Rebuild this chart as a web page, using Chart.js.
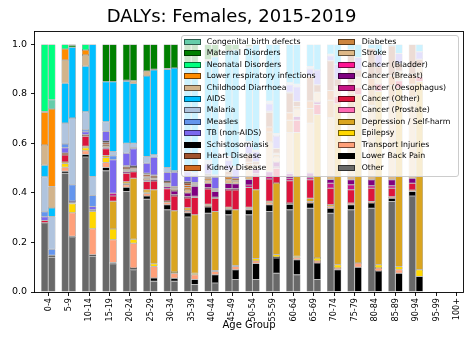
<!DOCTYPE html>
<html><head><meta charset="utf-8">
<script src="https://cdn.jsdelivr.net/npm/chart.js@4.4.1/dist/chart.umd.min.js"></script>
<style>
html,body{margin:0;padding:0;background:#fff;}
#wrap{position:relative;width:474px;height:355px;}
#legend{position:absolute;left:181px;top:35px;width:278px;height:142px;background:rgba(255,255,255,0.8);border:1px solid #cccccc;border-radius:3px;box-sizing:border-box;font-family:'DejaVu Sans';font-size:7.8px;color:#000;}
.item{position:absolute;white-space:nowrap;height:10px;line-height:10px;}
.sw{position:absolute;width:16.5px;height:6px;border:0.6px solid rgba(0,0,0,0.55);box-sizing:border-box;}
</style></head>
<body><div id="wrap"><canvas id="c" width="474" height="355"></canvas><div id="legend"></div></div>
<script>
const titleText = 'DALYs: Females, 2015-2019';
const xTitle = 'Age Group';
const ageGroups = ['0-4','5-9','10-14','15-19','20-24','25-29','30-34','35-39','40-44','45-49','50-54','55-59','60-64','65-69','70-74','75-79','80-84','85-89','90-94','95-99','100+'];
const yTicks = [0, 0.2, 0.4, 0.6, 0.8, 1.0];

// series in stacking order, bottom -> top
const seriesNames = ['Other','Lower Back Pain','Transport Injuries','Epilepsy','Depression / Self-harm','Cancer (Prostate)','Cancer (Other)','Cancer (Oesophagus)','Cancer (Breast)','Cancer (Bladder)','Stroke','Diabetes','Kidney Disease','Heart Disease','Schistosomiasis','TB (non-AIDS)','Measles','Malaria','AIDS','Childhood Diarrhoea','Lower respiratory infections','Congenital birth defects','Maternal Disorders','Neonatal Disorders'];
const seriesColors = ['#696969','#000000','#FFA07A','#FFD700','#DAA520','#FF69B4','#DC143C','#C71585','#800080','#FF1493','#DEB887','#CD853F','#D2691E','#A0522D','#000000','#7B68EE','#6495ED','#B0C4DE','#00BFFF','#D2B48C','#FF8C00','#66CDAA','#008000','#00FF7F'];
const legendOrder = ['Congenital birth defects','Maternal Disorders','Neonatal Disorders','Lower respiratory infections','Childhood Diarrhoea','AIDS','Malaria','Measles','TB (non-AIDS)','Schistosomiasis','Heart Disease','Kidney Disease','Diabetes','Stroke','Cancer (Bladder)','Cancer (Breast)','Cancer (Oesophagus)','Cancer (Other)','Cancer (Prostate)','Depression / Self-harm','Epilepsy','Transport Injuries','Lower Back Pain','Other'];

// left bar (A) and right bar (B) of each age group, values in seriesNames order
const A_00_04 = [0.28,0,0,0,0,0,0.009,0,0,0,0,0,0,0,0,0.015,0.02,0.141,0.047,0.082,0.132,0.003,0,0.271];
const B_00_04 = [0.14,0.005,0,0,0,0,0,0,0,0,0,0,0,0,0,0.003,0.025,0.132,0.034,0.087,0.313,0.037,0,0.224];
const A_05_09 = [0.48,0.008,0.016,0.015,0.006,0,0.028,0,0,0,0,0,0,0.008,0,0.022,0.015,0.085,0.16,0.094,0.044,0,0,0.019];
const B_05_09 = [0.222,0.003,0.095,0.036,0,0,0.002,0,0,0,0,0,0,0,0.004,0.006,0.065,0.27,0.285,0,0,0,0.008,0.004];
const A_10_14 = [0.545,0.01,0.015,0.013,0.006,0,0.04,0,0,0,0,0,0,0.006,0,0.012,0.008,0.073,0.184,0.045,0.02,0,0,0.023];
const B_10_14 = [0.144,0.006,0.105,0.07,0.003,0,0,0,0,0,0,0,0,0,0.004,0.013,0.045,0.076,0.534,0,0,0,0,0];
const A_15_19 = [0.49,0.013,0.02,0.02,0.008,0,0.028,0,0.005,0,0.006,0,0.005,0.008,0.007,0.038,0,0.04,0.161,0,0,0,0.151,0];
const B_15_19 = [0.114,0.005,0.092,0.043,0.112,0,0.022,0.011,0,0,0,0,0,0,0,0.135,0.016,0.017,0.282,0,0,0,0.151,0];
const A_20_24 = [0.406,0.017,0.01,0.004,0.008,0,0.035,0,0.006,0,0.005,0.005,0.005,0.006,0.003,0.05,0,0.041,0.25,0.004,0,0,0.145,0];
const B_20_24 = [0.09,0.007,0.1,0.016,0.246,0,0.027,0,0.004,0,0.005,0.005,0,0.005,0.004,0.07,0.005,0.017,0.241,0.011,0,0,0.147,0];
const A_25_29 = [0.375,0.013,0.01,0.005,0.01,0,0.033,0,0.005,0,0.006,0.005,0.005,0.008,0.005,0.04,0,0.027,0.325,0.02,0,0,0.108,0];
const B_25_29 = [0.043,0.014,0.046,0.011,0.299,0,0.035,0,0.005,0,0.006,0.005,0,0.006,0.003,0.071,0,0.01,0.343,0.003,0,0,0.1,0];
const A_30_34 = [0.332,0.02,0.01,0,0.005,0,0.05,0,0.008,0,0.005,0.004,0.004,0.006,0.004,0.035,0,0.02,0.396,0.004,0,0,0.097,0];
const B_30_34 = [0.043,0.013,0.02,0.005,0.247,0,0.06,0.005,0.015,0,0.005,0.005,0,0.005,0.003,0.058,0,0.006,0.415,0,0,0,0.095,0];
const A_35_39 = [0.303,0.017,0.007,0.003,0.01,0,0.04,0.005,0.015,0,0.012,0.01,0.008,0.01,0.005,0.04,0,0.02,0.41,0.005,0,0,0.08,0];
const B_35_39 = [0.03,0.02,0.02,0.006,0.236,0,0.07,0.005,0.04,0.003,0.005,0.003,0,0.004,0,0.03,0,0.01,0.438,0,0,0,0.08,0];
const A_40_44 = [0.318,0.025,0.005,0,0.006,0,0.062,0.005,0.018,0,0.01,0.008,0.006,0.01,0.004,0.04,0,0.015,0.4,0.006,0,0,0.062,0];
const B_40_44 = [0.036,0.034,0.013,0.004,0.238,0,0.054,0.004,0.023,0,0.004,0.004,0,0.004,0,0.045,0,0.01,0.477,0,0,0,0.05,0];
const A_45_49 = [0.312,0.02,0.004,0,0.006,0,0.07,0.006,0.02,0,0.015,0.012,0.008,0.015,0.004,0.04,0,0.015,0.428,0,0,0,0.025,0];
const B_45_49 = [0.05,0.04,0.013,0.004,0.225,0,0.08,0.005,0.02,0,0.008,0.006,0,0.008,0,0.04,0,0.008,0.47,0,0,0,0.023,0];
const A_50_54 = [0.312,0.02,0.005,0,0.005,0,0.08,0.01,0.022,0,0.04,0.02,0.01,0.03,0.004,0.035,0,0.015,0.38,0.004,0,0,0.008,0];
const B_50_54 = [0.05,0.065,0.01,0.01,0.278,0,0.06,0.005,0.02,0,0.01,0.008,0,0.01,0,0.04,0,0.006,0.428,0,0,0,0,0];
const A_55_59 = [0.325,0.027,0.008,0,0.006,0,0.09,0.01,0.02,0,0.12,0.04,0.02,0.06,0.004,0.03,0,0.01,0.23,0,0,0,0,0];
const B_55_59 = [0.076,0.061,0.004,0.01,0.289,0,0.06,0.005,0.02,0,0.02,0.01,0.005,0.02,0,0.05,0,0.01,0.36,0,0,0,0,0];
const A_60_64 = [0.332,0.022,0.005,0,0,0,0.09,0.01,0.02,0.005,0.16,0.05,0.03,0.08,0.003,0.03,0,0.008,0.155,0,0,0,0,0];
const B_60_64 = [0.07,0.06,0.008,0.006,0.5,0,0.05,0,0.015,0,0.03,0.01,0,0.02,0,0.06,0,0.01,0.161,0,0,0,0,0];
const A_65_69 = [0.338,0.021,0.006,0,0.014,0,0.074,0.008,0.02,0,0.2,0.06,0.03,0.1,0,0.03,0,0.01,0.089,0,0,0,0,0];
const B_65_69 = [0.05,0.067,0.008,0.012,0.58,0,0.04,0,0.01,0,0.04,0,0,0.03,0,0.06,0,0,0.103,0,0,0,0,0];
const A_70_74 = [0.318,0.02,0.007,0,0.007,0,0.067,0.02,0.015,0,0.25,0.07,0.04,0.12,0,0.02,0,0.006,0.04,0,0,0,0,0];
const B_70_74 = [0,0.09,0.007,0.013,0.65,0,0.03,0,0,0,0.04,0,0,0.03,0,0.06,0,0,0.08,0,0,0,0,0];
const A_75_79 = [0.332,0.02,0.007,0,0,0,0.054,0.02,0.02,0,0.28,0.07,0.04,0.12,0,0.015,0,0,0.022,0,0,0,0,0];
const B_75_79 = [0,0.1,0.017,0,0.68,0,0.03,0,0,0,0.04,0,0,0.03,0,0.05,0,0,0.053,0,0,0,0,0];
const A_80_84 = [0.338,0.021,0.006,0,0,0,0.054,0.01,0.024,0,0.3,0.07,0.04,0.12,0,0,0,0,0.017,0,0,0,0,0];
const B_80_84 = [0,0.085,0.012,0.013,0.7,0,0.03,0,0,0,0.04,0,0,0.03,0,0.05,0,0,0.04,0,0,0,0,0];
const A_85_89 = [0.365,0.014,0.006,0,0,0,0.034,0.01,0.024,0,0.32,0.06,0.04,0.12,0,0,0,0,0.007,0,0,0,0,0];
const B_85_89 = [0,0.076,0.014,0.013,0.72,0,0.03,0,0,0,0.04,0,0,0.03,0,0.04,0,0,0.037,0,0,0,0,0];
const A_90_94 = [0.388,0.018,0.006,0,0,0,0.027,0,0.02,0,0.33,0.05,0.04,0.121,0,0,0,0,0,0,0,0,0,0];
const B_90_94 = [0,0.063,0,0.027,0.76,0,0.02,0,0,0,0.04,0,0,0.03,0,0.03,0,0,0.03,0,0,0,0,0];

const barsA = [A_00_04,A_05_09,A_10_14,A_15_19,A_20_24,A_25_29,A_30_34,A_35_39,A_40_44,A_45_49,A_50_54,A_55_59,A_60_64,A_65_69,A_70_74,A_75_79,A_80_84,A_85_89,A_90_94];
const barsB = [B_00_04,B_05_09,B_10_14,B_15_19,B_20_24,B_25_29,B_30_34,B_35_39,B_40_44,B_45_49,B_50_54,B_55_59,B_60_64,B_65_69,B_70_74,B_75_79,B_80_84,B_85_89,B_90_94];

const datasets = [];
[['A', barsA], ['B', barsB]].forEach(([stack, bars]) => {
  seriesNames.forEach((name, s) => {
    datasets.push({
      label: name, stack: stack,
      data: bars.map((bar, i) => ({x: i, y: bar[s]})),
      backgroundColor: seriesColors[s]
    });
  });
});

const framePlugin = {
  id: 'frame',
  afterDraw(chart) {
    const {ctx, chartArea: a} = chart;
    ctx.save();
    ctx.strokeStyle = '#000';
    ctx.lineWidth = 0.9;
    ctx.strokeRect(Math.round(a.left) - 0.5, Math.round(a.top) - 0.5, Math.round(a.right - a.left) + 1, Math.round(a.bottom - a.top) + 1);
    ctx.restore();
  }
};

const yTickFont = {family: 'DejaVu Sans', size: 9.5};
const xTickFont = {family: "'DejaVu Sans Condensed', 'DejaVu Sans'", size: 9};
new Chart(document.getElementById('c'), {
  type: 'bar',
  data: {datasets},
  options: {
    responsive: false, animation: false, devicePixelRatio: 1,
    layout: {padding: {left: 0, right: 11, top: 0, bottom: 0}},
    datasets: {bar: {categoryPercentage: 0.7, barPercentage: 1.0, borderWidth: 0.5, borderColor: 'rgba(0,0,0,0.6)', borderSkipped: false}},
    plugins: {
      legend: {display: false}, tooltip: {enabled: false},
      title: {display: true, text: titleText, color: '#000', font: {family: 'DejaVu Sans', size: 18, weight: 'normal'}, padding: {top: 7, bottom: 3.4}}
    },
    scales: {
      x: {
        type: 'linear', min: -0.65, max: 20.31, offset: false,
        afterBuildTicks: s => { s.ticks = ageGroups.map((g, i) => ({value: i})); },
        afterFit: s => { s.height = 63; },
        ticks: {autoSkip: false, minRotation: 90, maxRotation: 90, padding: 2, color: '#000', font: xTickFont, callback: v => ageGroups[Math.round(v)]},
        grid: {display: true, offset: false, drawOnChartArea: false, drawTicks: true, tickLength: 4, color: '#000', lineWidth: 0.9},
        border: {display: false},
        title: {display: true, text: xTitle, color: '#000', font: {family: 'DejaVu Sans', size: 10}, padding: {top: 0, bottom: 24}}
      },
      y: {
        stacked: true, min: 0, max: 1.05,
        afterBuildTicks: s => { s.ticks = yTicks.map(v => ({value: v})); },
        afterFit: s => { s.width = 35; },
        ticks: {padding: 4, color: '#000', font: yTickFont, callback: v => v.toFixed(1)},
        grid: {display: true, drawOnChartArea: false, drawTicks: true, tickLength: 4, color: '#000', lineWidth: 0.9},
        border: {display: false}
      }
    }
  },
  plugins: [framePlugin]
});

// legend overlay (matplotlib-style, two columns, semi-transparent)
const leg = document.getElementById('legend');
const rowsPerCol = 12;
legendOrder.forEach((name, k) => {
  const col = Math.floor(k / rowsPerCol), row = k % rowsPerCol;
  const cy = 5.7 + 11.45 * row;
  const sx = col === 0 ? 2.3 : 156.3;
  const tx = col === 0 ? 24.7 : 179.7;
  const sw = document.createElement('div');
  sw.className = 'sw';
  sw.style.left = sx + 'px'; sw.style.top = (cy - 3) + 'px';
  sw.style.background = seriesColors[seriesNames.indexOf(name)];
  leg.appendChild(sw);
  const it = document.createElement('div');
  it.className = 'item';
  it.style.left = tx + 'px'; it.style.top = (cy - 5) + 'px';
  it.textContent = name;
  leg.appendChild(it);
});
</script>
</body></html>
